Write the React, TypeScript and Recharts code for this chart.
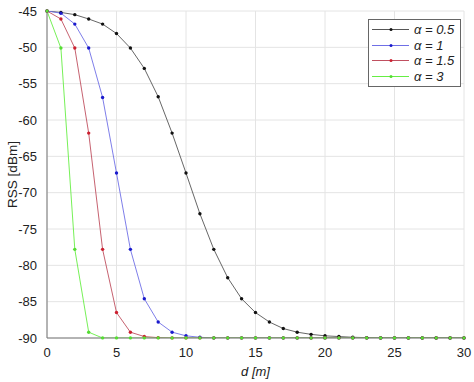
import { CartesianGrid, Label, Line, LineChart, XAxis, YAxis } from "recharts";

// distance in metres, 0..30
const distances = [
  0, 1, 2, 3, 4, 5, 6, 7, 8, 9, 10, 11, 12, 13, 14, 15, 16, 17, 18, 19, 20, 21,
  22, 23, 24, 25, 26, 27, 28, 29, 30,
];

// RSS [dBm]
const rssAlpha05 = [
  -45, -45.2, -45.5, -46.1, -46.8, -48.1, -50.1, -52.9, -56.8, -61.8, -67.3, -72.9,
  -77.8, -81.7, -84.6, -86.5, -87.8, -88.7, -89.2, -89.5, -89.7, -89.8, -89.9,
  -89.95, -90, -90, -90, -90, -90, -90, -90,
];
const rssAlpha1 = [
  -45, -45.3, -46.8, -50.1, -56.9, -67.3, -77.8, -84.6, -87.8, -89.2, -89.7, -89.9,
  -90, -90, -90, -90, -90, -90, -90, -90, -90, -90, -90, -90, -90, -90, -90, -90,
  -90, -90, -90,
];
const rssAlpha15 = [
  -45, -46.1, -50.1, -61.8, -77.8, -86.5, -89.2, -89.8, -89.95, -90, -90, -90, -90,
  -90, -90, -90, -90, -90, -90, -90, -90, -90, -90, -90, -90, -90, -90, -90, -90,
  -90, -90,
];
const rssAlpha3 = [
  -45, -50.1, -77.8, -89.2, -90, -90, -90, -90, -90, -90, -90, -90, -90, -90, -90,
  -90, -90, -90, -90, -90, -90, -90, -90, -90, -90, -90, -90, -90, -90, -90, -90,
];

const xTicks = [0, 5, 10, 15, 20, 25, 30];
const yTicks = [-90, -85, -80, -75, -70, -65, -60, -55, -50, -45];

const series = [
  { key: "a05", name: "α = 0.5", color: "#111111", line: "#555555" },
  { key: "a1", name: "α = 1", color: "#1a1acc", line: "#6f6fe6" },
  { key: "a15", name: "α = 1.5", color: "#cc2030", line: "#c05060" },
  { key: "a3", name: "α = 3", color: "#55dd33", line: "#66ee44" },
];

const data = distances.map((d, i) => ({
  d,
  a05: rssAlpha05[i],
  a1: rssAlpha1[i],
  a15: rssAlpha15[i],
  a3: rssAlpha3[i],
}));

const font = "Arial, 'Liberation Sans', sans-serif";

// legend drawn over the plot, MATLAB style box in the upper right
function LegendBox() {
  return (
    <div
      style={{
        position: "absolute",
        left: 368,
        top: 19,
        width: 93,
        boxSizing: "border-box",
        border: "1px solid #666",
        background: "#fff",
        padding: "2px 4px 2px 3px",
        fontFamily: font,
        fontSize: 13,
        fontStyle: "italic",
        color: "#222",
        lineHeight: "15.5px",
      }}
    >
      {series.map((s) => (
        <div key={s.key} style={{ display: "flex", alignItems: "center" }}>
          <svg width={37} height={15} style={{ marginRight: 5, flex: "none" }}>
            <line x1={0} y1={7.5} x2={37} y2={7.5} stroke={s.line} strokeWidth={1} />
            <circle cx={19} cy={7.5} r={1.5} fill={s.color} />
          </svg>
          <span style={{ whiteSpace: "nowrap" }}>{s.name}</span>
        </div>
      ))}
    </div>
  );
}

export default function App() {
  return (
    <div style={{ position: "absolute", left: 0, top: 0, width: 474, height: 382, background: "#fff" }}>
      <LineChart
        width={474}
        height={382}
        data={data}
        margin={{ top: 11, right: 10, bottom: 4, left: 0 }}
      >
        <CartesianGrid stroke="#e4e4e4" strokeWidth={1} />
        <XAxis
          dataKey="d"
          type="number"
          domain={[0, 30]}
          ticks={xTicks}
          height={40}
          tickLine={false}
          axisLine={{ stroke: "#777" }}
          tick={{ fill: "#222", fontSize: 13, fontFamily: font }}
          tickMargin={4}
        >
          <Label
            value="d [m]"
            position="insideBottom"
            offset={2}
            style={{ fill: "#222", fontSize: 13, fontFamily: font, fontStyle: "italic" }}
          />
        </XAxis>
        <XAxis
          xAxisId="top"
          orientation="top"
          dataKey="d"
          type="number"
          domain={[0, 30]}
          height={0}
          tick={false}
          tickLine={false}
          axisLine={{ stroke: "#888" }}
        />
        <YAxis
          type="number"
          domain={[-90, -45]}
          ticks={yTicks}
          width={47}
          allowDataOverflow
          tickLine={false}
          axisLine={{ stroke: "#777" }}
          tick={{ fill: "#222", fontSize: 13, fontFamily: font }}
          tickMargin={4}
        >
          <Label
            value="RSS [dBm]"
            angle={-90}
            position="insideLeft"
            offset={12}
            style={{ fill: "#222", fontSize: 13.5, fontFamily: font, textAnchor: "middle" }}
          />
        </YAxis>
        <YAxis
          yAxisId="right"
          orientation="right"
          type="number"
          domain={[-90, -45]}
          width={0}
          tick={false}
          tickLine={false}
          axisLine={{ stroke: "#888" }}
        />
        {series.map((s) => (
          <Line
            key={s.key}
            type="linear"
            dataKey={s.key}
            name={s.name}
            stroke={s.line}
            strokeWidth={0.9}
            dot={{ r: 1.7, fill: s.color, stroke: s.color, strokeWidth: 0, clipDot: false }}
            isAnimationActive={false}
          />
        ))}
      </LineChart>
      <LegendBox />
    </div>
  );
}
